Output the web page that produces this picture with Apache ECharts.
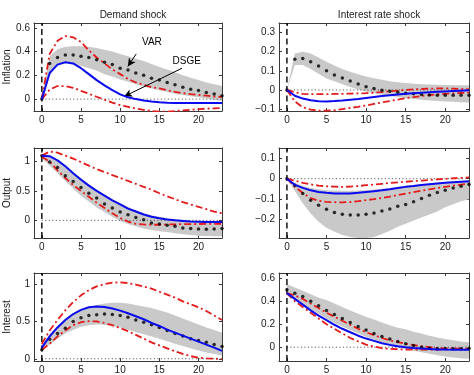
<!DOCTYPE html>
<html><head><meta charset="utf-8">
<script src="https://cdn.jsdelivr.net/npm/echarts@6/dist/echarts.min.js"></script>
<style>html,body{margin:0;padding:0;background:#fff}#c{width:474px;height:375px}</style>
</head><body><div id="c"></div>
<script>
// ---------- data ----------
const horizon = [0,1,2,3,4,5,6,7,8,9,10,11,12,13,14,15,16,17,18,19,20,21,22,23];
const xTicks = [0,5,10,15,20];
const colTitles = ['Demand shock','Interest rate shock'];
const rowNames = ['Inflation','Output','Interest'];

// Demand shock / Inflation
const dsge1 = [0,0.22,0.29,0.31,0.30,0.26,0.21,0.16,0.115,0.075,0.04,0.015,0.0,-0.012,-0.02,-0.026,-0.03,-0.032,-0.033,-0.033,-0.033,-0.033,-0.033,-0.033];
const var1 = [0,0.30,0.35,0.37,0.37,0.36,0.35,0.33,0.31,0.29,0.26,0.245,0.22,0.20,0.175,0.16,0.14,0.12,0.10,0.083,0.072,0.055,0.042,0.028];
const bandLo1 = [0,0.2,0.29,0.31,0.30,0.28,0.26,0.24,0.21,0.19,0.165,0.145,0.125,0.105,0.09,0.075,0.06,0.045,0.035,0.025,0.015,0.005,-0.005,-0.015];
const bandHi1 = [0,0.36,0.42,0.44,0.445,0.445,0.44,0.43,0.415,0.40,0.38,0.36,0.34,0.32,0.295,0.27,0.25,0.225,0.2,0.18,0.16,0.14,0.125,0.11];
const redHi1 = [0,0.38,0.49,0.53,0.52,0.48,0.41,0.35,0.30,0.25,0.21,0.17,0.14,0.12,0.10,0.09,0.075,0.06,0.05,0.042,0.036,0.03,0.022,0.018];
const redLo1 = [0,0.08,0.11,0.11,0.095,0.07,0.045,0.02,-0.005,-0.03,-0.05,-0.065,-0.08,-0.09,-0.1,-0.105,-0.105,-0.1,-0.095,-0.09,-0.085,-0.08,-0.078,-0.075];

// Interest rate shock / Inflation
const dsge2 = [0,-0.03,-0.045,-0.054,-0.059,-0.06,-0.058,-0.055,-0.051,-0.047,-0.042,-0.037,-0.032,-0.028,-0.024,-0.02,-0.017,-0.014,-0.012,-0.01,-0.008,-0.006,-0.004,-0.002];
const var2 = [0,0.16,0.165,0.147,0.125,0.10,0.078,0.062,0.047,0.031,0.017,0.007,-0.002,-0.007,-0.012,-0.017,-0.02,-0.024,-0.026,-0.028,-0.028,-0.028,-0.028,-0.028];
const bandLo2 = [0,0.13,0.13,0.11,0.085,0.06,0.045,0.03,0.015,0.003,-0.009,-0.017,-0.024,-0.031,-0.037,-0.043,-0.047,-0.051,-0.055,-0.058,-0.06,-0.062,-0.064,-0.066];
const bandHi2 = [0,0.19,0.2,0.19,0.17,0.148,0.128,0.11,0.095,0.082,0.07,0.061,0.053,0.046,0.04,0.036,0.032,0.03,0.028,0.027,0.026,0.025,0.025,0.025];
const redHi2 = [0,-0.012,-0.02,-0.022,-0.022,-0.022,-0.021,-0.02,-0.019,-0.018,-0.017,-0.014,-0.011,-0.007,-0.003,0,0.003,0.005,0.007,0.008,0.009,0.007,0.005,0.003];
const redLo2 = [0,-0.06,-0.09,-0.103,-0.108,-0.108,-0.106,-0.1,-0.094,-0.088,-0.081,-0.073,-0.065,-0.058,-0.05,-0.043,-0.037,-0.032,-0.027,-0.023,-0.02,-0.018,-0.016,-0.014];

// Demand shock / Output
const dsge3 = [1.1,1.09,1.02,0.92,0.8,0.69,0.59,0.5,0.42,0.34,0.27,0.2,0.15,0.1,0.06,0.035,0.015,0.0,-0.01,-0.02,-0.025,-0.03,-0.03,-0.03];
const var3 = [1.1,0.99,0.9,0.76,0.66,0.56,0.46,0.38,0.28,0.21,0.14,0.096,0.05,0.01,-0.045,-0.06,-0.085,-0.1,-0.13,-0.14,-0.147,-0.15,-0.147,-0.14];
const bandLo3 = [1.05,0.93,0.8,0.67,0.54,0.42,0.32,0.22,0.14,0.06,-0.01,-0.06,-0.1,-0.14,-0.165,-0.185,-0.2,-0.22,-0.235,-0.25,-0.26,-0.265,-0.27,-0.27];
const bandHi3 = [1.12,1.1,1.03,0.93,0.82,0.72,0.62,0.52,0.44,0.36,0.29,0.23,0.17,0.12,0.085,0.06,0.04,0.02,0.005,-0.01,-0.02,-0.025,-0.028,-0.03];
const redHi3 = [1.1,1.17,1.15,1.1,1.05,0.99,0.93,0.87,0.82,0.77,0.72,0.67,0.62,0.57,0.52,0.46,0.41,0.36,0.31,0.27,0.23,0.19,0.15,0.12];
const redLo3 = [1.08,1.0,0.85,0.72,0.6,0.5,0.4,0.3,0.21,0.12,0.04,-0.02,-0.06,-0.07,-0.075,-0.075,-0.07,-0.068,-0.065,-0.063,-0.062,-0.06,-0.06,-0.06];

// Interest rate shock / Output
const dsge4 = [0,-0.03,-0.045,-0.057,-0.065,-0.069,-0.072,-0.073,-0.072,-0.069,-0.065,-0.061,-0.057,-0.052,-0.046,-0.04,-0.036,-0.031,-0.027,-0.023,-0.02,-0.017,-0.015,-0.013];
const var4 = [0,-0.032,-0.073,-0.105,-0.13,-0.15,-0.165,-0.174,-0.177,-0.177,-0.174,-0.168,-0.158,-0.148,-0.135,-0.126,-0.113,-0.097,-0.081,-0.068,-0.056,-0.045,-0.037,-0.029];
const bandLo4 = [0,-0.06,-0.12,-0.17,-0.21,-0.24,-0.26,-0.275,-0.285,-0.29,-0.29,-0.285,-0.27,-0.255,-0.235,-0.22,-0.205,-0.19,-0.175,-0.16,-0.14,-0.125,-0.11,-0.1];
const bandHi4 = [0,-0.02,-0.035,-0.045,-0.052,-0.056,-0.058,-0.059,-0.059,-0.058,-0.056,-0.053,-0.049,-0.045,-0.04,-0.035,-0.031,-0.027,-0.023,-0.019,-0.016,-0.014,-0.012,-0.01];
const redHi4 = [0,-0.01,-0.02,-0.028,-0.034,-0.037,-0.039,-0.04,-0.039,-0.036,-0.032,-0.029,-0.025,-0.021,-0.018,-0.015,-0.012,-0.009,-0.006,-0.003,-0.001,0.002,0.004,0.006];
const redLo4 = [0,-0.04,-0.07,-0.095,-0.108,-0.113,-0.115,-0.116,-0.114,-0.11,-0.105,-0.1,-0.094,-0.088,-0.08,-0.073,-0.066,-0.059,-0.052,-0.046,-0.04,-0.034,-0.029,-0.024];

// Demand shock / Interest
const dsge5 = [0.15,0.3,0.42,0.52,0.6,0.655,0.69,0.7,0.695,0.675,0.645,0.61,0.57,0.53,0.48,0.44,0.39,0.35,0.31,0.27,0.23,0.19,0.15,0.105];
const var5 = [0.12,0.26,0.34,0.41,0.5,0.55,0.58,0.59,0.6,0.595,0.58,0.555,0.52,0.49,0.455,0.42,0.38,0.34,0.305,0.27,0.245,0.22,0.19,0.165];
const bandLo5 = [0.1,0.19,0.27,0.34,0.39,0.43,0.45,0.46,0.455,0.44,0.42,0.39,0.36,0.33,0.3,0.27,0.235,0.2,0.17,0.14,0.11,0.085,0.065,0.045];
const bandHi5 = [0.18,0.33,0.44,0.53,0.6,0.65,0.69,0.72,0.74,0.75,0.75,0.74,0.72,0.7,0.68,0.65,0.62,0.58,0.54,0.5,0.46,0.42,0.385,0.35];
const redHi5 = [0.2,0.38,0.52,0.65,0.76,0.85,0.92,0.97,1.0,1.02,1.025,1.015,0.995,0.97,0.94,0.9,0.86,0.82,0.77,0.73,0.69,0.64,0.58,0.52];
const redLo5 = [0.12,0.2,0.3,0.38,0.45,0.49,0.505,0.5,0.48,0.45,0.41,0.37,0.32,0.27,0.22,0.18,0.14,0.1,0.065,0.035,0.015,0.005,0.0,-0.005];

// Interest rate shock / Interest
const dsge6 = [0.47,0.42,0.37,0.32,0.275,0.235,0.195,0.16,0.13,0.1,0.075,0.055,0.035,0.02,0.008,0.0,-0.007,-0.012,-0.016,-0.019,-0.021,-0.022,-0.023,-0.023];
const var6 = [0.5,0.47,0.44,0.4,0.36,0.32,0.285,0.25,0.214,0.18,0.149,0.12,0.094,0.071,0.049,0.029,0.014,0.0,-0.009,-0.014,-0.014,-0.014,-0.014,-0.009];
const bandLo6 = [0.45,0.41,0.37,0.33,0.29,0.25,0.21,0.18,0.15,0.12,0.09,0.065,0.04,0.02,0.0,-0.015,-0.03,-0.045,-0.058,-0.07,-0.08,-0.09,-0.097,-0.1];
const bandHi6 = [0.55,0.52,0.49,0.46,0.43,0.41,0.38,0.35,0.32,0.29,0.265,0.24,0.215,0.19,0.17,0.155,0.135,0.12,0.1,0.085,0.072,0.06,0.05,0.043];
const redHi6 = [0.47,0.45,0.42,0.38,0.34,0.3,0.265,0.23,0.195,0.16,0.13,0.105,0.08,0.06,0.045,0.03,0.018,0.009,0.0,-0.007,-0.01,-0.012,-0.012,-0.012];
const redLo6 = [0.47,0.4,0.35,0.3,0.25,0.2,0.16,0.12,0.08,0.05,0.023,0.005,-0.009,-0.014,-0.018,-0.02,-0.02,-0.02,-0.02,-0.02,-0.018,-0.017,-0.016,-0.015];

// y ticks and ranges
const yTicks1 = [0,0.2,0.4,0.6],      yRange1 = [-0.1,0.64];
const yTicks2 = [-0.1,0,0.1,0.2,0.3], yRange2 = [-0.11,0.35];
const yTicks3 = [0,0.5,1],            yRange3 = [-0.3,1.23];
const yTicks4 = [-0.2,-0.1,0,0.1],    yRange4 = [-0.29,0.15];
const yTicks5 = [0,0.5,1],            yRange5 = [-0.03,1.15];
const yTicks6 = [0,0.2,0.4,0.6],      yRange6 = [-0.12,0.645];
const xRange = [-1,23];

// annotation (panel 1) in data coordinates
const varArrow = [[12.05,0.38],[10.98,0.275]], varLabelAt = [14.05,0.475];
const dsgeArrow = [[17.9,0.26],[10.5,0.022]], dsgeLabelAt = [18.5,0.32];

// ---------- build ----------
const panels = [
  {dsge:dsge1,vr:var1,lo:bandLo1,hi:bandHi1,rh:redHi1,rl:redLo1,yt:yTicks1,yr:yRange1},
  {dsge:dsge2,vr:var2,lo:bandLo2,hi:bandHi2,rh:redHi2,rl:redLo2,yt:yTicks2,yr:yRange2},
  {dsge:dsge3,vr:var3,lo:bandLo3,hi:bandHi3,rh:redHi3,rl:redLo3,yt:yTicks3,yr:yRange3},
  {dsge:dsge4,vr:var4,lo:bandLo4,hi:bandHi4,rh:redHi4,rl:redLo4,yt:yTicks4,yr:yRange4},
  {dsge:dsge5,vr:var5,lo:bandLo5,hi:bandHi5,rh:redHi5,rl:redLo5,yt:yTicks5,yr:yRange5},
  {dsge:dsge6,vr:var6,lo:bandLo6,hi:bandHi6,rh:redHi6,rl:redLo6,yt:yTicks6,yr:yRange6}
];
const colLeft = [34,279], colWidth = [188,190];
const rowTop = [23,148,273], rowHeight = [88,90,89];
const FONT = '"Liberation Sans", Arial, Helvetica, sans-serif';
const frame = {lineStyle:{color:'#3a3a3a',width:1}};
const pairs = arr => horizon.map((t,i)=>[t,arr[i]]);
const fmt = v => (Math.round(v*100)/100).toString().replace('-','\u2212');

const grid=[], xAxis=[], yAxis=[], series=[];
panels.forEach((p,i)=>{
  const r = Math.floor(i/2), c = i%2;
  grid.push({left:colLeft[c], top:rowTop[r], width:colWidth[c], height:rowHeight[r], containLabel:false});
  const xb = {gridIndex:i, type:'value', min:xRange[0], max:xRange[1], position:'bottom',
    axisLine:{show:true,onZero:false,...frame}, splitLine:{show:false},
    axisTick:{show:true,inside:true,length:3,customValues:xTicks,lineStyle:{color:'#3a3a3a'}},
    axisLabel:{show:true,customValues:xTicks,margin:4,fontSize:10,color:'#1a1a1a',fontFamily:FONT}};
  xAxis.push(xb);
  xAxis.push({...xb, position:'top', axisLabel:{show:false,customValues:xTicks}});
  const yl = {gridIndex:i, type:'value', min:p.yr[0], max:p.yr[1], position:'left',
    axisLine:{show:true,onZero:false,...frame}, splitLine:{show:false},
    axisTick:{show:true,inside:true,length:3,customValues:p.yt,lineStyle:{color:'#3a3a3a'}},
    axisLabel:{show:true,customValues:p.yt,margin:4,fontSize:10,color:'#1a1a1a',fontFamily:FONT,formatter:fmt}};
  if(c===0){ Object.assign(yl,{name:rowNames[r],nameLocation:'middle',nameGap:21,
    nameTextStyle:{fontSize:10,color:'#1a1a1a',fontFamily:FONT}}); }
  yAxis.push(yl);
  yAxis.push({gridIndex:i, type:'value', min:p.yr[0], max:p.yr[1], position:'right',
    axisLine:{show:true,onZero:false,...frame}, splitLine:{show:false},
    axisTick:{show:true,inside:true,length:3,customValues:p.yt,lineStyle:{color:'#3a3a3a'}},
    axisLabel:{show:false,customValues:p.yt}});
  const xi = 2*i, yi = 2*i;
  const base = {xAxisIndex:xi, yAxisIndex:yi, symbol:'none', silent:true, animation:false};
  // confidence band as polygon through the axes' scales
  series.push({xAxisIndex:xi, yAxisIndex:yi, type:'custom', silent:true, animation:false, z:1,
    data:horizon.map((t,k)=>[t,p.lo[k],p.hi[k]]),
    encode:{x:0,y:[1,2]},
    renderItem:(params,api)=>{
      if(params.dataIndex!==0) return;
      const pts=[];
      horizon.forEach((t,k)=>pts.push(api.coord([t,p.hi[k]])));
      for(let k=horizon.length-1;k>=0;k--) pts.push(api.coord([horizon[k],p.lo[k]]));
      const cs=params.coordSys;
      return {type:'polygon', shape:{points:echarts.graphic.clipPointsByRect(pts,{x:cs.x,y:cs.y,width:cs.width,height:cs.height})},
        style:{fill:'#c9c9c9'}};
    }});
  // zero line
  series.push({...base, type:'line', data:[[0,0],[xRange[1],0]],
    lineStyle:{color:'#444',width:1,type:[1,2.5]}, z:2});
  // vertical line at impact
  series.push({...base, type:'line', data:[[0,p.yr[0]],[0,p.yr[1]]],
    lineStyle:{color:'#000',width:1.4,type:[6,3.5]}, z:2});
  // red dash-dot bands
  [p.rh,p.rl].forEach(arr=>series.push({...base, type:'line', data:pairs(arr),
    lineStyle:{color:'#e41b1b',width:1.8,type:[7,3,2,3]}, z:3}));
  // VAR dots
  series.push({...base, type:'scatter', data:pairs(p.vr), symbol:'circle', symbolSize:3.5,
    itemStyle:{color:'#000'}, z:4});
  // DSGE
  const blue = {...base, type:'line', data:pairs(p.dsge), lineStyle:{color:'#0a0aee',width:2}, z:5};
  if(i===0){
    blue.markLine = {silent:true, symbol:['none','arrow'], symbolSize:[6,8], animation:false,
      lineStyle:{color:'#000',width:1,type:'solid'}, label:{show:false},
      data:[[{coord:varArrow[0]},{coord:varArrow[1]}],[{coord:dsgeArrow[0]},{coord:dsgeArrow[1]}]]};
    blue.markPoint = {silent:true, symbol:'circle', symbolSize:1, itemStyle:{color:'rgba(0,0,0,0)'}, animation:false,
      label:{show:true,position:'inside',fontSize:10,color:'#000',fontFamily:FONT,formatter:d=>d.name},
      data:[{name:'VAR',coord:varLabelAt},{name:'DSGE',coord:dsgeLabelAt}]};
  }
  series.push(blue);
});

const title = colTitles.map((t,c)=>({text:t, left:colLeft[c]+colWidth[c]/2, top:5, textAlign:'center',
  textStyle:{fontSize:10,fontWeight:'normal',color:'#1a1a1a',fontFamily:FONT}}));

const chart = echarts.init(document.getElementById('c'), null, {renderer:'canvas'});
chart.setOption({animation:false, backgroundColor:'#fff', title, grid, xAxis, yAxis, series});
</script></body></html>
